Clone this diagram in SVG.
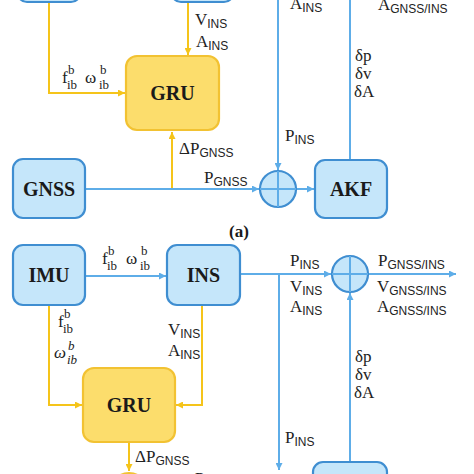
<svg xmlns="http://www.w3.org/2000/svg" width="474" height="474" viewBox="0 0 474 474">
<defs>
<style>
.bbox{fill:#C5E6FA;stroke:#3F8ED1;stroke-width:2.2}
.ybox{fill:#FCDD6C;stroke:#F2C232;stroke-width:2.2}
.bl{fill:none;stroke:#5EADE8;stroke-width:2}
.yl{fill:none;stroke:#F5C41A;stroke-width:2}
.name{font-family:"Liberation Serif",serif;font-weight:bold;font-size:20px;fill:#1a1a1a;text-anchor:middle}
.m{font-family:"Liberation Serif",serif;font-size:17px;fill:#222}
.s{font-family:"Liberation Sans",sans-serif;font-size:12px;fill:#222}
.ss{font-family:"Liberation Serif",serif;font-size:13px;fill:#222}
.cap{font-family:"Liberation Serif",serif;font-weight:bold;font-size:17px;fill:#1a1a1a;text-anchor:middle}
</style>
<marker id="ab" viewBox="0 0 8 8" refX="8" refY="4" markerWidth="7" markerHeight="7" markerUnits="userSpaceOnUse" orient="auto"><path d="M0,0 L8,4 L0,8 z" fill="#5EADE8"/></marker>
<marker id="ay" viewBox="0 0 8 8" refX="8" refY="4" markerWidth="7" markerHeight="7" markerUnits="userSpaceOnUse" orient="auto"><path d="M0,0 L8,4 L0,8 z" fill="#F5C41A"/></marker>
</defs>

<g id="connectors">
<path class="yl" d="M49 2 V93 H125" marker-end="url(#ay)"/>
<path class="yl" d="M188 2 V55" marker-end="url(#ay)"/>
<path class="yl" d="M172 189 V132" marker-end="url(#ay)"/>
<path class="bl" d="M85 189 H259" marker-end="url(#ab)"/>
<path class="bl" d="M278 0 V170" marker-end="url(#ab)"/>
<path class="bl" d="M296 189 H314" marker-end="url(#ab)"/>
<path class="bl" d="M350 160 V0"/>
<path class="bl" d="M85 276 H166" marker-end="url(#ab)"/>
<path class="yl" d="M49 305 V405 H82" marker-end="url(#ay)"/>
<path class="yl" d="M202 305 V405 H176" marker-end="url(#ay)"/>
<path class="yl" d="M129 442 V471" marker-end="url(#ay)"/>
<path class="bl" d="M240 274 H331" marker-end="url(#ab)"/>
<path class="bl" d="M279 274 V470" marker-end="url(#ab)"/>
<path class="bl" d="M368 274 H456" marker-end="url(#ab)"/>
<path class="bl" d="M350 462 V293" marker-end="url(#ab)"/>
</g>

<g id="imu-a"><rect class="bbox" x="18" y="-60" width="62" height="62" rx="9"/></g>
<g id="ins-a"><rect class="bbox" x="172" y="-60" width="61" height="62" rx="9"/></g>
<g id="gru-a"><rect class="ybox" x="126" y="56" width="93" height="74" rx="11"/><text class="name" x="172.5" y="100">GRU</text></g>
<g id="gnss-a"><rect class="bbox" x="13" y="159" width="72" height="59" rx="10"/><text class="name" x="49" y="196">GNSS</text></g>
<g id="sum-a"><circle cx="278" cy="189" r="18" fill="#C5E6FA" stroke="#3F8ED1" stroke-width="2.2"/><path class="bl" d="M260 189 H296 M278 171 V207"/></g>
<g id="akf-a"><rect class="bbox" x="315" y="160" width="72" height="58" rx="10"/><text class="name" x="351" y="196">AKF</text></g>

<g id="labels-a">
<text class="m" x="62" y="83">f</text><text class="ss" x="68" y="74">b</text><text class="ss" x="67" y="89">ib</text>
<text class="m" x="85" y="83">ω</text><text class="ss" x="100" y="74">b</text><text class="ss" x="99" y="89">ib</text>
<text x="195" y="25"><tspan class="m">V</tspan><tspan class="s" dy="3">INS</tspan></text>
<text x="196" y="47"><tspan class="m">A</tspan><tspan class="s" dy="3">INS</tspan></text>
<text x="179" y="154"><tspan class="m">ΔP</tspan><tspan class="s" dy="3">GNSS</tspan></text>
<text x="204" y="183"><tspan class="m">P</tspan><tspan class="s" dy="3">GNSS</tspan></text>
<text x="285" y="141"><tspan class="m">P</tspan><tspan class="s" dy="3">INS</tspan></text>
<text x="290" y="9"><tspan class="m">A</tspan><tspan class="s" dy="3">INS</tspan></text>
<text x="378" y="10"><tspan class="m">A</tspan><tspan class="s" dy="3">GNSS/INS</tspan></text>
<text class="m" x="355" y="61">δp</text>
<text class="m" x="355" y="79">δv</text>
<text class="m" x="354" y="97">δA</text>
<text class="cap" x="239" y="237">(a)</text>
</g>

<g id="imu-b"><rect class="bbox" x="13" y="245" width="72" height="60" rx="10"/><text class="name" x="49" y="282">IMU</text></g>
<g id="ins-b"><rect class="bbox" x="167" y="245" width="73" height="60" rx="10"/><text class="name" x="203.5" y="282">INS</text></g>
<g id="gru-b"><rect class="ybox" x="83" y="368" width="92" height="74" rx="11"/><text class="name" x="129" y="412">GRU</text></g>
<g id="sum-y"><circle cx="129" cy="491" r="18" fill="#FCDD6C" stroke="#F2C232" stroke-width="2.2"/></g>
<g id="sum-b"><circle cx="350" cy="274" r="18" fill="#C5E6FA" stroke="#3F8ED1" stroke-width="2.2"/><path class="bl" d="M332 274 H368 M350 256 V292"/></g>
<g id="akf-b"><rect class="bbox" x="313" y="462" width="74" height="60" rx="10"/></g>

<g id="labels-b">
<text class="m" x="102" y="264">f</text><text class="ss" x="108" y="255">b</text><text class="ss" x="107" y="270">ib</text>
<text class="m" x="126" y="264">ω</text><text class="ss" x="141" y="255">b</text><text class="ss" x="140" y="270">ib</text>
<text class="m" x="58" y="327">f</text><text class="ss" x="64" y="318">b</text><text class="ss" x="63" y="333">ib</text>
<text class="m" x="54" y="358" font-style="italic">ω</text><text class="ss" x="68" y="350" font-style="italic">b</text><text class="ss" x="67" y="364" font-style="italic">ib</text>
<text x="168" y="335"><tspan class="m">V</tspan><tspan class="s" dy="3">INS</tspan></text>
<text x="168" y="356"><tspan class="m">A</tspan><tspan class="s" dy="3">INS</tspan></text>
<text x="135" y="462"><tspan class="m">ΔP</tspan><tspan class="s" dy="3">GNSS</tspan></text>
<text x="195" y="484"><tspan class="m">P</tspan><tspan class="s" dy="3">GNSS</tspan></text>
<text x="290" y="266"><tspan class="m">P</tspan><tspan class="s" dy="3">INS</tspan></text>
<text x="290" y="292"><tspan class="m">V</tspan><tspan class="s" dy="3">INS</tspan></text>
<text x="290" y="312"><tspan class="m">A</tspan><tspan class="s" dy="3">INS</tspan></text>
<text x="378" y="266"><tspan class="m">P</tspan><tspan class="s" dy="3">GNSS/INS</tspan></text>
<text x="377" y="292"><tspan class="m">V</tspan><tspan class="s" dy="3">GNSS/INS</tspan></text>
<text x="377" y="312"><tspan class="m">A</tspan><tspan class="s" dy="3">GNSS/INS</tspan></text>
<text x="285" y="443"><tspan class="m">P</tspan><tspan class="s" dy="3">INS</tspan></text>
<text class="m" x="355" y="362">δp</text>
<text class="m" x="355" y="380">δv</text>
<text class="m" x="354" y="398">δA</text>
</g>
</svg>
